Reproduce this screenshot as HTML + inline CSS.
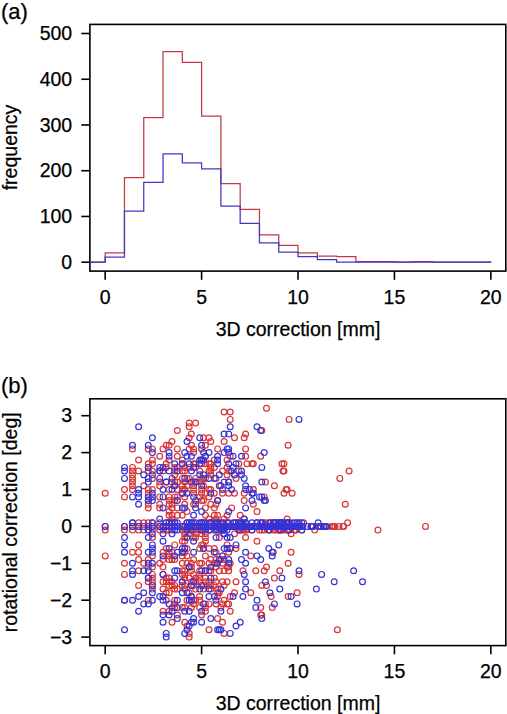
<!DOCTYPE html>
<html><head><meta charset="utf-8"><style>
html,body{margin:0;padding:0;background:#fff;width:507px;height:714px;overflow:hidden}
svg{display:block}
text{font-family:"Liberation Sans", sans-serif}
</style></head><body><svg width="507" height="714" viewBox="0 0 507 714" font-family='"Liberation Sans", sans-serif' font-size="19.5" fill="#000" stroke="#000" stroke-width="0.25"><rect x="89.9" y="24.4" width="415.9" height="246.70000000000002" fill="none" stroke="#000" stroke-width="1.6"/>
<line x1="105.18" y1="271.1" x2="105.18" y2="279.8" stroke="#000" stroke-width="1.6"/>
<text x="105.18" y="303.6" text-anchor="middle">0</text>
<line x1="201.60" y1="271.1" x2="201.60" y2="279.8" stroke="#000" stroke-width="1.6"/>
<text x="201.60" y="303.6" text-anchor="middle">5</text>
<line x1="298.02" y1="271.1" x2="298.02" y2="279.8" stroke="#000" stroke-width="1.6"/>
<text x="298.02" y="303.6" text-anchor="middle">10</text>
<line x1="394.44" y1="271.1" x2="394.44" y2="279.8" stroke="#000" stroke-width="1.6"/>
<text x="394.44" y="303.6" text-anchor="middle">15</text>
<line x1="490.86" y1="271.1" x2="490.86" y2="279.8" stroke="#000" stroke-width="1.6"/>
<text x="490.86" y="303.6" text-anchor="middle">20</text>
<text x="298" y="335.7" text-anchor="middle">3D correction [mm]</text>
<line x1="81.30000000000001" y1="262.20" x2="89.9" y2="262.20" stroke="#000" stroke-width="1.6"/>
<text x="72.2" y="268.80" text-anchor="end">0</text>
<line x1="81.30000000000001" y1="216.46" x2="89.9" y2="216.46" stroke="#000" stroke-width="1.6"/>
<text x="72.2" y="223.06" text-anchor="end">100</text>
<line x1="81.30000000000001" y1="170.72" x2="89.9" y2="170.72" stroke="#000" stroke-width="1.6"/>
<text x="72.2" y="177.32" text-anchor="end">200</text>
<line x1="81.30000000000001" y1="124.98" x2="89.9" y2="124.98" stroke="#000" stroke-width="1.6"/>
<text x="72.2" y="131.58" text-anchor="end">300</text>
<line x1="81.30000000000001" y1="79.24" x2="89.9" y2="79.24" stroke="#000" stroke-width="1.6"/>
<text x="72.2" y="85.84" text-anchor="end">400</text>
<line x1="81.30000000000001" y1="33.50" x2="89.9" y2="33.50" stroke="#000" stroke-width="1.6"/>
<text x="72.2" y="40.10" text-anchor="end">500</text>
<text x="1.0" y="18.9" font-size="22">(a)</text>
<text transform="translate(16.8,147.5) rotate(-90)" text-anchor="middle">frequency</text>
<polyline points="89.90,262.20 105.18,262.20 105.18,252.90 124.46,252.90 124.46,177.60 143.75,177.60 143.75,117.70 163.03,117.70 163.03,51.50 182.32,51.50 182.32,62.30 201.60,62.30 201.60,116.00 220.88,116.00 220.88,183.60 240.17,183.60 240.17,209.30 259.45,209.30 259.45,234.90 278.74,234.90 278.74,245.40 298.02,245.40 298.02,252.80 317.30,252.80 317.30,256.20 336.59,256.20 336.59,256.50 355.87,256.50 355.87,261.70 375.16,261.70 375.16,261.70 394.44,261.70 394.44,262.00 413.72,262.00 413.72,261.70 433.01,261.70 433.01,262.00 452.29,262.00 452.29,262.00 471.58,262.00 471.58,262.00 490.86,262.00 490.86,262.20" fill="none" stroke="#c23a44" stroke-width="1.25"/>
<polyline points="89.90,262.20 105.18,262.20 105.18,257.20 124.46,257.20 124.46,211.20 143.75,211.20 143.75,182.30 163.03,182.30 163.03,153.80 182.32,153.80 182.32,162.80 201.60,162.80 201.60,168.80 220.88,168.80 220.88,206.00 240.17,206.00 240.17,223.30 259.45,223.30 259.45,242.80 278.74,242.80 278.74,252.10 298.02,252.10 298.02,256.60 317.30,256.60 317.30,259.70 336.59,259.70 336.59,262.00 355.87,262.00 355.87,262.10 375.16,262.10 375.16,262.10 394.44,262.10 394.44,262.10 413.72,262.10 413.72,262.10 433.01,262.10 433.01,262.10 452.29,262.10 452.29,262.10 471.58,262.10 471.58,262.10 490.86,262.10 490.86,262.20" fill="none" stroke="#3e38c8" stroke-width="1.25"/>
<rect x="89.9" y="398.8" width="415.9" height="246.8" fill="none" stroke="#000" stroke-width="1.6"/>
<line x1="105.18" y1="645.6" x2="105.18" y2="654.3000000000001" stroke="#000" stroke-width="1.6"/>
<text x="105.18" y="678.0" text-anchor="middle">0</text>
<line x1="201.60" y1="645.6" x2="201.60" y2="654.3000000000001" stroke="#000" stroke-width="1.6"/>
<text x="201.60" y="678.0" text-anchor="middle">5</text>
<line x1="298.02" y1="645.6" x2="298.02" y2="654.3000000000001" stroke="#000" stroke-width="1.6"/>
<text x="298.02" y="678.0" text-anchor="middle">10</text>
<line x1="394.44" y1="645.6" x2="394.44" y2="654.3000000000001" stroke="#000" stroke-width="1.6"/>
<text x="394.44" y="678.0" text-anchor="middle">15</text>
<line x1="490.86" y1="645.6" x2="490.86" y2="654.3000000000001" stroke="#000" stroke-width="1.6"/>
<text x="490.86" y="678.0" text-anchor="middle">20</text>
<text x="298" y="709.6" text-anchor="middle">3D correction [mm]</text>
<line x1="81.30000000000001" y1="637.10" x2="89.9" y2="637.10" stroke="#000" stroke-width="1.6"/>
<text x="72.2" y="643.70" text-anchor="end">−3</text>
<line x1="81.30000000000001" y1="600.20" x2="89.9" y2="600.20" stroke="#000" stroke-width="1.6"/>
<text x="72.2" y="606.80" text-anchor="end">−2</text>
<line x1="81.30000000000001" y1="563.30" x2="89.9" y2="563.30" stroke="#000" stroke-width="1.6"/>
<text x="72.2" y="569.90" text-anchor="end">−1</text>
<line x1="81.30000000000001" y1="526.40" x2="89.9" y2="526.40" stroke="#000" stroke-width="1.6"/>
<text x="72.2" y="533.00" text-anchor="end">0</text>
<line x1="81.30000000000001" y1="489.50" x2="89.9" y2="489.50" stroke="#000" stroke-width="1.6"/>
<text x="72.2" y="496.10" text-anchor="end">1</text>
<line x1="81.30000000000001" y1="452.60" x2="89.9" y2="452.60" stroke="#000" stroke-width="1.6"/>
<text x="72.2" y="459.20" text-anchor="end">2</text>
<line x1="81.30000000000001" y1="415.70" x2="89.9" y2="415.70" stroke="#000" stroke-width="1.6"/>
<text x="72.2" y="422.30" text-anchor="end">3</text>
<text x="1.0" y="393.3" font-size="22">(b)</text>
<text transform="translate(16.8,522.3) rotate(-90)" text-anchor="middle">rotational correction [deg]</text>
<g fill="none" stroke-width="1.2" stroke="#d83434"><circle cx="132.5" cy="448.9" r="2.9"/><circle cx="148.3" cy="448.9" r="2.9"/><circle cx="152.4" cy="448.9" r="2.9"/><circle cx="177.3" cy="430.5" r="2.9"/><circle cx="189.2" cy="423.1" r="2.9"/><circle cx="195.6" cy="423.1" r="2.9"/><circle cx="189.2" cy="426.8" r="2.9"/><circle cx="191.4" cy="434.1" r="2.9"/><circle cx="172.0" cy="441.5" r="2.9"/><circle cx="166.2" cy="445.2" r="2.9"/><circle cx="169.1" cy="445.2" r="2.9"/><circle cx="189.2" cy="437.8" r="2.9"/><circle cx="191.4" cy="445.2" r="2.9"/><circle cx="203.5" cy="437.8" r="2.9"/><circle cx="209.0" cy="437.8" r="2.9"/><circle cx="205.4" cy="445.2" r="2.9"/><circle cx="163.0" cy="448.9" r="2.9"/><circle cx="177.3" cy="448.9" r="2.9"/><circle cx="159.7" cy="456.3" r="2.9"/><circle cx="193.6" cy="452.6" r="2.9"/><circle cx="193.6" cy="448.9" r="2.9"/><circle cx="189.2" cy="448.9" r="2.9"/><circle cx="201.6" cy="448.9" r="2.9"/><circle cx="266.5" cy="408.3" r="2.9"/><circle cx="224.1" cy="412.0" r="2.9"/><circle cx="230.2" cy="412.0" r="2.9"/><circle cx="230.2" cy="419.4" r="2.9"/><circle cx="234.5" cy="437.8" r="2.9"/><circle cx="224.1" cy="441.5" r="2.9"/><circle cx="245.6" cy="434.1" r="2.9"/><circle cx="244.2" cy="437.8" r="2.9"/><circle cx="261.8" cy="430.5" r="2.9"/><circle cx="210.8" cy="441.5" r="2.9"/><circle cx="217.6" cy="448.9" r="2.9"/><circle cx="245.6" cy="448.9" r="2.9"/><circle cx="245.6" cy="456.3" r="2.9"/><circle cx="260.7" cy="456.3" r="2.9"/><circle cx="289.1" cy="419.4" r="2.9"/><circle cx="288.1" cy="445.2" r="2.9"/><circle cx="105.2" cy="493.2" r="2.9"/><circle cx="124.5" cy="489.5" r="2.9"/><circle cx="124.5" cy="496.9" r="2.9"/><circle cx="132.5" cy="467.4" r="2.9"/><circle cx="132.5" cy="471.0" r="2.9"/><circle cx="132.5" cy="474.7" r="2.9"/><circle cx="132.5" cy="478.4" r="2.9"/><circle cx="132.5" cy="482.1" r="2.9"/><circle cx="132.5" cy="485.8" r="2.9"/><circle cx="132.5" cy="489.5" r="2.9"/><circle cx="138.6" cy="460.0" r="2.9"/><circle cx="138.6" cy="471.0" r="2.9"/><circle cx="143.7" cy="485.8" r="2.9"/><circle cx="148.3" cy="463.7" r="2.9"/><circle cx="148.3" cy="471.0" r="2.9"/><circle cx="148.3" cy="489.5" r="2.9"/><circle cx="148.3" cy="500.6" r="2.9"/><circle cx="148.3" cy="507.9" r="2.9"/><circle cx="252.0" cy="463.7" r="2.9"/><circle cx="152.4" cy="463.7" r="2.9"/><circle cx="166.2" cy="463.7" r="2.9"/><circle cx="182.3" cy="460.0" r="2.9"/><circle cx="195.6" cy="463.7" r="2.9"/><circle cx="205.4" cy="463.7" r="2.9"/><circle cx="214.3" cy="460.0" r="2.9"/><circle cx="227.1" cy="460.0" r="2.9"/><circle cx="238.8" cy="463.7" r="2.9"/><circle cx="246.9" cy="463.7" r="2.9"/><circle cx="253.3" cy="463.7" r="2.9"/><circle cx="284.0" cy="463.7" r="2.9"/><circle cx="152.4" cy="471.0" r="2.9"/><circle cx="163.0" cy="471.0" r="2.9"/><circle cx="174.7" cy="471.0" r="2.9"/><circle cx="184.7" cy="471.0" r="2.9"/><circle cx="199.7" cy="471.0" r="2.9"/><circle cx="210.8" cy="471.0" r="2.9"/><circle cx="228.7" cy="471.0" r="2.9"/><circle cx="234.5" cy="474.7" r="2.9"/><circle cx="284.0" cy="471.0" r="2.9"/><circle cx="152.4" cy="478.4" r="2.9"/><circle cx="166.2" cy="482.1" r="2.9"/><circle cx="177.3" cy="482.1" r="2.9"/><circle cx="189.2" cy="478.4" r="2.9"/><circle cx="203.5" cy="478.4" r="2.9"/><circle cx="216.0" cy="478.4" r="2.9"/><circle cx="228.7" cy="482.1" r="2.9"/><circle cx="236.0" cy="478.4" r="2.9"/><circle cx="274.4" cy="485.8" r="2.9"/><circle cx="286.1" cy="489.5" r="2.9"/><circle cx="159.7" cy="485.8" r="2.9"/><circle cx="169.1" cy="489.5" r="2.9"/><circle cx="182.3" cy="489.5" r="2.9"/><circle cx="193.6" cy="489.5" r="2.9"/><circle cx="209.0" cy="489.5" r="2.9"/><circle cx="220.9" cy="485.8" r="2.9"/><circle cx="228.7" cy="493.2" r="2.9"/><circle cx="234.5" cy="493.2" r="2.9"/><circle cx="264.2" cy="496.9" r="2.9"/><circle cx="284.0" cy="493.2" r="2.9"/><circle cx="159.7" cy="496.9" r="2.9"/><circle cx="169.1" cy="500.6" r="2.9"/><circle cx="184.7" cy="496.9" r="2.9"/><circle cx="201.6" cy="493.2" r="2.9"/><circle cx="209.0" cy="496.9" r="2.9"/><circle cx="217.6" cy="500.6" r="2.9"/><circle cx="244.2" cy="500.6" r="2.9"/><circle cx="159.7" cy="504.3" r="2.9"/><circle cx="172.0" cy="507.9" r="2.9"/><circle cx="177.3" cy="507.9" r="2.9"/><circle cx="195.6" cy="504.3" r="2.9"/><circle cx="205.4" cy="507.9" r="2.9"/><circle cx="216.0" cy="504.3" r="2.9"/><circle cx="231.6" cy="507.9" r="2.9"/><circle cx="257.0" cy="511.6" r="2.9"/><circle cx="169.1" cy="515.3" r="2.9"/><circle cx="182.3" cy="515.3" r="2.9"/><circle cx="217.6" cy="515.3" r="2.9"/><circle cx="227.1" cy="515.3" r="2.9"/><circle cx="240.2" cy="515.3" r="2.9"/><circle cx="377.9" cy="530.1" r="2.9"/><circle cx="425.5" cy="526.4" r="2.9"/><circle cx="281.9" cy="463.7" r="2.9"/><circle cx="283.0" cy="471.0" r="2.9"/><circle cx="265.4" cy="482.1" r="2.9"/><circle cx="287.1" cy="489.5" r="2.9"/><circle cx="292.1" cy="493.2" r="2.9"/><circle cx="253.3" cy="489.5" r="2.9"/><circle cx="253.3" cy="504.3" r="2.9"/><circle cx="349.1" cy="471.0" r="2.9"/><circle cx="339.8" cy="478.4" r="2.9"/><circle cx="345.3" cy="504.3" r="2.9"/><circle cx="314.7" cy="530.1" r="2.9"/><circle cx="337.4" cy="629.7" r="2.9"/><circle cx="245.6" cy="537.5" r="2.9"/><circle cx="257.0" cy="541.2" r="2.9"/><circle cx="273.3" cy="552.2" r="2.9"/><circle cx="250.8" cy="555.9" r="2.9"/><circle cx="291.1" cy="552.2" r="2.9"/><circle cx="288.1" cy="563.3" r="2.9"/><circle cx="266.5" cy="567.0" r="2.9"/><circle cx="255.8" cy="570.7" r="2.9"/><circle cx="264.2" cy="570.7" r="2.9"/><circle cx="279.8" cy="570.7" r="2.9"/><circle cx="242.9" cy="570.7" r="2.9"/><circle cx="299.0" cy="574.4" r="2.9"/><circle cx="274.4" cy="578.1" r="2.9"/><circle cx="261.8" cy="585.4" r="2.9"/><circle cx="266.5" cy="585.4" r="2.9"/><circle cx="297.1" cy="592.8" r="2.9"/><circle cx="250.8" cy="592.8" r="2.9"/><circle cx="288.1" cy="596.5" r="2.9"/><circle cx="260.7" cy="607.6" r="2.9"/><circle cx="260.7" cy="615.0" r="2.9"/><circle cx="261.8" cy="615.0" r="2.9"/><circle cx="272.2" cy="607.6" r="2.9"/><circle cx="271.1" cy="596.5" r="2.9"/><circle cx="105.2" cy="555.9" r="2.9"/><circle cx="124.5" cy="563.3" r="2.9"/><circle cx="124.5" cy="574.4" r="2.9"/><circle cx="124.5" cy="600.2" r="2.9"/><circle cx="132.5" cy="552.2" r="2.9"/><circle cx="138.6" cy="544.9" r="2.9"/><circle cx="138.6" cy="552.2" r="2.9"/><circle cx="138.6" cy="559.6" r="2.9"/><circle cx="138.6" cy="570.7" r="2.9"/><circle cx="138.6" cy="585.4" r="2.9"/><circle cx="138.6" cy="530.1" r="2.9"/><circle cx="143.7" cy="563.3" r="2.9"/><circle cx="148.3" cy="559.6" r="2.9"/><circle cx="148.3" cy="567.0" r="2.9"/><circle cx="148.3" cy="578.1" r="2.9"/><circle cx="148.3" cy="581.8" r="2.9"/><circle cx="148.3" cy="600.2" r="2.9"/><circle cx="152.4" cy="537.5" r="2.9"/><circle cx="152.4" cy="555.9" r="2.9"/><circle cx="152.4" cy="567.0" r="2.9"/><circle cx="152.4" cy="574.4" r="2.9"/><circle cx="152.4" cy="578.1" r="2.9"/><circle cx="152.4" cy="581.8" r="2.9"/><circle cx="152.4" cy="585.4" r="2.9"/><circle cx="152.4" cy="589.1" r="2.9"/><circle cx="159.7" cy="563.3" r="2.9"/><circle cx="163.0" cy="552.2" r="2.9"/><circle cx="163.0" cy="559.6" r="2.9"/><circle cx="163.0" cy="567.0" r="2.9"/><circle cx="163.0" cy="574.4" r="2.9"/><circle cx="163.0" cy="581.8" r="2.9"/><circle cx="163.0" cy="589.1" r="2.9"/><circle cx="163.0" cy="611.3" r="2.9"/><circle cx="148.3" cy="467.4" r="2.9"/><circle cx="148.3" cy="493.2" r="2.9"/><circle cx="148.3" cy="504.3" r="2.9"/><circle cx="152.4" cy="460.0" r="2.9"/><circle cx="152.4" cy="489.5" r="2.9"/><circle cx="159.7" cy="471.0" r="2.9"/><circle cx="159.7" cy="482.1" r="2.9"/><circle cx="159.7" cy="507.9" r="2.9"/><circle cx="105.2" cy="526.4" r="2.9"/><circle cx="105.2" cy="530.1" r="2.9"/><circle cx="124.5" cy="526.4" r="2.9"/><circle cx="124.5" cy="530.1" r="2.9"/><circle cx="189.2" cy="637.1" r="2.9"/><circle cx="177.3" cy="615.0" r="2.9"/><circle cx="184.7" cy="622.3" r="2.9"/><circle cx="187.0" cy="626.0" r="2.9"/><circle cx="201.6" cy="615.0" r="2.9"/><circle cx="209.0" cy="629.7" r="2.9"/><circle cx="217.6" cy="618.6" r="2.9"/><circle cx="222.5" cy="622.3" r="2.9"/><circle cx="224.1" cy="633.4" r="2.9"/><circle cx="230.2" cy="611.3" r="2.9"/><circle cx="166.2" cy="467.4" r="2.9"/><circle cx="169.1" cy="460.0" r="2.9"/><circle cx="172.0" cy="482.1" r="2.9"/><circle cx="174.7" cy="482.1" r="2.9"/><circle cx="174.7" cy="474.7" r="2.9"/><circle cx="174.7" cy="467.4" r="2.9"/><circle cx="177.3" cy="467.4" r="2.9"/><circle cx="177.3" cy="456.3" r="2.9"/><circle cx="182.3" cy="478.4" r="2.9"/><circle cx="182.3" cy="471.0" r="2.9"/><circle cx="182.3" cy="463.7" r="2.9"/><circle cx="184.7" cy="482.1" r="2.9"/><circle cx="184.7" cy="467.4" r="2.9"/><circle cx="187.0" cy="478.4" r="2.9"/><circle cx="189.2" cy="467.4" r="2.9"/><circle cx="193.6" cy="482.1" r="2.9"/><circle cx="193.6" cy="463.7" r="2.9"/><circle cx="195.6" cy="482.1" r="2.9"/><circle cx="195.6" cy="478.4" r="2.9"/><circle cx="195.6" cy="467.4" r="2.9"/><circle cx="201.6" cy="482.1" r="2.9"/><circle cx="201.6" cy="478.4" r="2.9"/><circle cx="201.6" cy="463.7" r="2.9"/><circle cx="201.6" cy="460.0" r="2.9"/><circle cx="205.4" cy="478.4" r="2.9"/><circle cx="205.4" cy="456.3" r="2.9"/><circle cx="209.0" cy="471.0" r="2.9"/><circle cx="209.0" cy="463.7" r="2.9"/><circle cx="210.8" cy="474.7" r="2.9"/><circle cx="210.8" cy="467.4" r="2.9"/><circle cx="210.8" cy="463.7" r="2.9"/><circle cx="214.3" cy="467.4" r="2.9"/><circle cx="169.1" cy="511.6" r="2.9"/><circle cx="169.1" cy="504.3" r="2.9"/><circle cx="169.1" cy="496.9" r="2.9"/><circle cx="172.0" cy="515.3" r="2.9"/><circle cx="172.0" cy="504.3" r="2.9"/><circle cx="174.7" cy="500.6" r="2.9"/><circle cx="174.7" cy="496.9" r="2.9"/><circle cx="174.7" cy="485.8" r="2.9"/><circle cx="177.3" cy="515.3" r="2.9"/><circle cx="177.3" cy="496.9" r="2.9"/><circle cx="177.3" cy="489.5" r="2.9"/><circle cx="182.3" cy="493.2" r="2.9"/><circle cx="182.3" cy="485.8" r="2.9"/><circle cx="184.7" cy="504.3" r="2.9"/><circle cx="184.7" cy="489.5" r="2.9"/><circle cx="187.0" cy="511.6" r="2.9"/><circle cx="187.0" cy="485.8" r="2.9"/><circle cx="193.6" cy="504.3" r="2.9"/><circle cx="193.6" cy="493.2" r="2.9"/><circle cx="193.6" cy="485.8" r="2.9"/><circle cx="199.7" cy="496.9" r="2.9"/><circle cx="201.6" cy="500.6" r="2.9"/><circle cx="201.6" cy="489.5" r="2.9"/><circle cx="203.5" cy="500.6" r="2.9"/><circle cx="203.5" cy="485.8" r="2.9"/><circle cx="205.4" cy="515.3" r="2.9"/><circle cx="205.4" cy="493.2" r="2.9"/><circle cx="210.8" cy="504.3" r="2.9"/><circle cx="210.8" cy="489.5" r="2.9"/><circle cx="214.3" cy="515.3" r="2.9"/><circle cx="214.3" cy="507.9" r="2.9"/><circle cx="214.3" cy="493.2" r="2.9"/><circle cx="222.5" cy="493.2" r="2.9"/><circle cx="222.5" cy="471.0" r="2.9"/><circle cx="227.1" cy="474.7" r="2.9"/><circle cx="227.1" cy="467.4" r="2.9"/><circle cx="230.2" cy="456.3" r="2.9"/><circle cx="238.8" cy="471.0" r="2.9"/><circle cx="244.2" cy="493.2" r="2.9"/><circle cx="132.5" cy="526.4" r="2.9"/><circle cx="138.6" cy="526.4" r="2.9"/><circle cx="148.3" cy="526.4" r="2.9"/><circle cx="152.4" cy="526.4" r="2.9"/><circle cx="159.7" cy="526.4" r="2.9"/><circle cx="132.5" cy="522.7" r="2.9"/><circle cx="138.6" cy="522.7" r="2.9"/><circle cx="143.7" cy="522.7" r="2.9"/><circle cx="148.3" cy="522.7" r="2.9"/><circle cx="152.4" cy="522.7" r="2.9"/><circle cx="159.7" cy="522.7" r="2.9"/><circle cx="132.5" cy="530.1" r="2.9"/><circle cx="143.7" cy="530.1" r="2.9"/><circle cx="148.3" cy="530.1" r="2.9"/><circle cx="152.4" cy="530.1" r="2.9"/><circle cx="159.7" cy="530.1" r="2.9"/><circle cx="163.0" cy="526.4" r="2.9"/><circle cx="169.1" cy="526.4" r="2.9"/><circle cx="174.7" cy="526.4" r="2.9"/><circle cx="177.3" cy="526.4" r="2.9"/><circle cx="182.3" cy="526.4" r="2.9"/><circle cx="184.7" cy="526.4" r="2.9"/><circle cx="189.2" cy="526.4" r="2.9"/><circle cx="193.6" cy="526.4" r="2.9"/><circle cx="195.6" cy="526.4" r="2.9"/><circle cx="199.7" cy="526.4" r="2.9"/><circle cx="201.6" cy="526.4" r="2.9"/><circle cx="203.5" cy="526.4" r="2.9"/><circle cx="209.0" cy="526.4" r="2.9"/><circle cx="210.8" cy="526.4" r="2.9"/><circle cx="214.3" cy="526.4" r="2.9"/><circle cx="216.0" cy="526.4" r="2.9"/><circle cx="217.6" cy="526.4" r="2.9"/><circle cx="219.3" cy="526.4" r="2.9"/><circle cx="220.9" cy="526.4" r="2.9"/><circle cx="166.2" cy="522.7" r="2.9"/><circle cx="169.1" cy="522.7" r="2.9"/><circle cx="172.0" cy="522.7" r="2.9"/><circle cx="174.7" cy="522.7" r="2.9"/><circle cx="187.0" cy="522.7" r="2.9"/><circle cx="191.4" cy="522.7" r="2.9"/><circle cx="195.6" cy="522.7" r="2.9"/><circle cx="201.6" cy="522.7" r="2.9"/><circle cx="209.0" cy="522.7" r="2.9"/><circle cx="210.8" cy="522.7" r="2.9"/><circle cx="217.6" cy="522.7" r="2.9"/><circle cx="222.5" cy="522.7" r="2.9"/><circle cx="224.1" cy="522.7" r="2.9"/><circle cx="163.0" cy="530.1" r="2.9"/><circle cx="166.2" cy="530.1" r="2.9"/><circle cx="169.1" cy="530.1" r="2.9"/><circle cx="172.0" cy="530.1" r="2.9"/><circle cx="182.3" cy="530.1" r="2.9"/><circle cx="184.7" cy="530.1" r="2.9"/><circle cx="187.0" cy="530.1" r="2.9"/><circle cx="189.2" cy="530.1" r="2.9"/><circle cx="191.4" cy="530.1" r="2.9"/><circle cx="193.6" cy="530.1" r="2.9"/><circle cx="195.6" cy="530.1" r="2.9"/><circle cx="199.7" cy="530.1" r="2.9"/><circle cx="201.6" cy="530.1" r="2.9"/><circle cx="203.5" cy="530.1" r="2.9"/><circle cx="209.0" cy="530.1" r="2.9"/><circle cx="210.8" cy="530.1" r="2.9"/><circle cx="214.3" cy="530.1" r="2.9"/><circle cx="219.3" cy="530.1" r="2.9"/><circle cx="222.5" cy="530.1" r="2.9"/><circle cx="224.1" cy="530.1" r="2.9"/><circle cx="172.0" cy="519.0" r="2.9"/><circle cx="209.0" cy="519.0" r="2.9"/><circle cx="216.0" cy="519.0" r="2.9"/><circle cx="224.1" cy="519.0" r="2.9"/><circle cx="184.7" cy="533.8" r="2.9"/><circle cx="189.2" cy="533.8" r="2.9"/><circle cx="195.6" cy="533.8" r="2.9"/><circle cx="201.6" cy="533.8" r="2.9"/><circle cx="205.4" cy="533.8" r="2.9"/><circle cx="224.1" cy="533.8" r="2.9"/><circle cx="228.7" cy="526.4" r="2.9"/><circle cx="231.6" cy="526.4" r="2.9"/><circle cx="234.5" cy="526.4" r="2.9"/><circle cx="236.0" cy="526.4" r="2.9"/><circle cx="241.5" cy="526.4" r="2.9"/><circle cx="242.9" cy="526.4" r="2.9"/><circle cx="250.8" cy="526.4" r="2.9"/><circle cx="257.0" cy="526.4" r="2.9"/><circle cx="263.0" cy="526.4" r="2.9"/><circle cx="265.4" cy="526.4" r="2.9"/><circle cx="269.9" cy="526.4" r="2.9"/><circle cx="272.2" cy="526.4" r="2.9"/><circle cx="273.3" cy="526.4" r="2.9"/><circle cx="274.4" cy="526.4" r="2.9"/><circle cx="277.7" cy="526.4" r="2.9"/><circle cx="279.8" cy="526.4" r="2.9"/><circle cx="280.9" cy="526.4" r="2.9"/><circle cx="281.9" cy="526.4" r="2.9"/><circle cx="283.0" cy="526.4" r="2.9"/><circle cx="284.0" cy="526.4" r="2.9"/><circle cx="286.1" cy="526.4" r="2.9"/><circle cx="288.1" cy="526.4" r="2.9"/><circle cx="289.1" cy="526.4" r="2.9"/><circle cx="291.1" cy="526.4" r="2.9"/><circle cx="292.1" cy="526.4" r="2.9"/><circle cx="295.1" cy="526.4" r="2.9"/><circle cx="296.1" cy="526.4" r="2.9"/><circle cx="298.0" cy="526.4" r="2.9"/><circle cx="233.1" cy="522.7" r="2.9"/><circle cx="238.8" cy="522.7" r="2.9"/><circle cx="240.2" cy="522.7" r="2.9"/><circle cx="245.6" cy="522.7" r="2.9"/><circle cx="257.0" cy="522.7" r="2.9"/><circle cx="263.0" cy="522.7" r="2.9"/><circle cx="265.4" cy="522.7" r="2.9"/><circle cx="268.8" cy="522.7" r="2.9"/><circle cx="271.1" cy="522.7" r="2.9"/><circle cx="273.3" cy="522.7" r="2.9"/><circle cx="275.5" cy="522.7" r="2.9"/><circle cx="278.7" cy="522.7" r="2.9"/><circle cx="280.9" cy="522.7" r="2.9"/><circle cx="292.1" cy="522.7" r="2.9"/><circle cx="238.8" cy="530.1" r="2.9"/><circle cx="240.2" cy="530.1" r="2.9"/><circle cx="241.5" cy="530.1" r="2.9"/><circle cx="242.9" cy="530.1" r="2.9"/><circle cx="244.2" cy="530.1" r="2.9"/><circle cx="245.6" cy="530.1" r="2.9"/><circle cx="246.9" cy="530.1" r="2.9"/><circle cx="252.0" cy="530.1" r="2.9"/><circle cx="259.5" cy="530.1" r="2.9"/><circle cx="261.8" cy="530.1" r="2.9"/><circle cx="264.2" cy="530.1" r="2.9"/><circle cx="268.8" cy="530.1" r="2.9"/><circle cx="269.9" cy="530.1" r="2.9"/><circle cx="273.3" cy="530.1" r="2.9"/><circle cx="275.5" cy="530.1" r="2.9"/><circle cx="277.7" cy="530.1" r="2.9"/><circle cx="278.7" cy="530.1" r="2.9"/><circle cx="279.8" cy="530.1" r="2.9"/><circle cx="280.9" cy="530.1" r="2.9"/><circle cx="284.0" cy="530.1" r="2.9"/><circle cx="287.1" cy="530.1" r="2.9"/><circle cx="288.1" cy="530.1" r="2.9"/><circle cx="289.1" cy="530.1" r="2.9"/><circle cx="294.1" cy="530.1" r="2.9"/><circle cx="295.1" cy="530.1" r="2.9"/><circle cx="296.1" cy="530.1" r="2.9"/><circle cx="301.8" cy="530.1" r="2.9"/><circle cx="244.2" cy="519.0" r="2.9"/><circle cx="287.1" cy="519.0" r="2.9"/><circle cx="234.5" cy="533.8" r="2.9"/><circle cx="291.1" cy="533.8" r="2.9"/><circle cx="311.1" cy="526.4" r="2.9"/><circle cx="312.0" cy="526.4" r="2.9"/><circle cx="318.2" cy="526.4" r="2.9"/><circle cx="320.8" cy="526.4" r="2.9"/><circle cx="324.2" cy="526.4" r="2.9"/><circle cx="325.1" cy="526.4" r="2.9"/><circle cx="303.7" cy="522.7" r="2.9"/><circle cx="331.7" cy="526.4" r="2.9"/><circle cx="332.5" cy="526.4" r="2.9"/><circle cx="333.4" cy="526.4" r="2.9"/><circle cx="335.0" cy="526.4" r="2.9"/><circle cx="339.0" cy="526.4" r="2.9"/><circle cx="342.9" cy="526.4" r="2.9"/><circle cx="343.7" cy="526.4" r="2.9"/><circle cx="347.6" cy="522.7" r="2.9"/><circle cx="166.2" cy="600.2" r="2.9"/><circle cx="166.2" cy="581.8" r="2.9"/><circle cx="166.2" cy="578.1" r="2.9"/><circle cx="166.2" cy="548.5" r="2.9"/><circle cx="169.1" cy="592.8" r="2.9"/><circle cx="169.1" cy="585.4" r="2.9"/><circle cx="169.1" cy="581.8" r="2.9"/><circle cx="169.1" cy="578.1" r="2.9"/><circle cx="169.1" cy="559.6" r="2.9"/><circle cx="169.1" cy="555.9" r="2.9"/><circle cx="169.1" cy="552.2" r="2.9"/><circle cx="172.0" cy="607.6" r="2.9"/><circle cx="172.0" cy="585.4" r="2.9"/><circle cx="172.0" cy="581.8" r="2.9"/><circle cx="172.0" cy="559.6" r="2.9"/><circle cx="172.0" cy="552.2" r="2.9"/><circle cx="174.7" cy="607.6" r="2.9"/><circle cx="174.7" cy="603.9" r="2.9"/><circle cx="174.7" cy="600.2" r="2.9"/><circle cx="174.7" cy="589.1" r="2.9"/><circle cx="174.7" cy="559.6" r="2.9"/><circle cx="174.7" cy="544.9" r="2.9"/><circle cx="177.3" cy="589.1" r="2.9"/><circle cx="182.3" cy="574.4" r="2.9"/><circle cx="182.3" cy="563.3" r="2.9"/><circle cx="182.3" cy="555.9" r="2.9"/><circle cx="182.3" cy="552.2" r="2.9"/><circle cx="182.3" cy="541.2" r="2.9"/><circle cx="184.7" cy="607.6" r="2.9"/><circle cx="184.7" cy="589.1" r="2.9"/><circle cx="184.7" cy="578.1" r="2.9"/><circle cx="184.7" cy="552.2" r="2.9"/><circle cx="184.7" cy="541.2" r="2.9"/><circle cx="184.7" cy="537.5" r="2.9"/><circle cx="187.0" cy="600.2" r="2.9"/><circle cx="187.0" cy="563.3" r="2.9"/><circle cx="187.0" cy="555.9" r="2.9"/><circle cx="187.0" cy="548.5" r="2.9"/><circle cx="189.2" cy="592.8" r="2.9"/><circle cx="189.2" cy="567.0" r="2.9"/><circle cx="191.4" cy="607.6" r="2.9"/><circle cx="191.4" cy="570.7" r="2.9"/><circle cx="191.4" cy="563.3" r="2.9"/><circle cx="193.6" cy="603.9" r="2.9"/><circle cx="193.6" cy="600.2" r="2.9"/><circle cx="193.6" cy="585.4" r="2.9"/><circle cx="193.6" cy="559.6" r="2.9"/><circle cx="193.6" cy="537.5" r="2.9"/><circle cx="195.6" cy="589.1" r="2.9"/><circle cx="195.6" cy="581.8" r="2.9"/><circle cx="195.6" cy="578.1" r="2.9"/><circle cx="195.6" cy="537.5" r="2.9"/><circle cx="199.7" cy="607.6" r="2.9"/><circle cx="199.7" cy="596.5" r="2.9"/><circle cx="199.7" cy="570.7" r="2.9"/><circle cx="199.7" cy="563.3" r="2.9"/><circle cx="199.7" cy="548.5" r="2.9"/><circle cx="201.6" cy="563.3" r="2.9"/><circle cx="201.6" cy="544.9" r="2.9"/><circle cx="203.5" cy="589.1" r="2.9"/><circle cx="203.5" cy="585.4" r="2.9"/><circle cx="203.5" cy="548.5" r="2.9"/><circle cx="203.5" cy="544.9" r="2.9"/><circle cx="205.4" cy="578.1" r="2.9"/><circle cx="205.4" cy="570.7" r="2.9"/><circle cx="205.4" cy="555.9" r="2.9"/><circle cx="205.4" cy="541.2" r="2.9"/><circle cx="205.4" cy="537.5" r="2.9"/><circle cx="209.0" cy="603.9" r="2.9"/><circle cx="209.0" cy="581.8" r="2.9"/><circle cx="209.0" cy="570.7" r="2.9"/><circle cx="209.0" cy="563.3" r="2.9"/><circle cx="209.0" cy="548.5" r="2.9"/><circle cx="210.8" cy="589.1" r="2.9"/><circle cx="210.8" cy="585.4" r="2.9"/><circle cx="210.8" cy="570.7" r="2.9"/><circle cx="210.8" cy="559.6" r="2.9"/><circle cx="214.3" cy="585.4" r="2.9"/><circle cx="214.3" cy="578.1" r="2.9"/><circle cx="214.3" cy="563.3" r="2.9"/><circle cx="214.3" cy="548.5" r="2.9"/><circle cx="216.0" cy="603.9" r="2.9"/><circle cx="216.0" cy="567.0" r="2.9"/><circle cx="216.0" cy="563.3" r="2.9"/><circle cx="216.0" cy="559.6" r="2.9"/><circle cx="216.0" cy="552.2" r="2.9"/><circle cx="217.6" cy="596.5" r="2.9"/><circle cx="217.6" cy="589.1" r="2.9"/><circle cx="219.3" cy="570.7" r="2.9"/><circle cx="219.3" cy="537.5" r="2.9"/><circle cx="220.9" cy="559.6" r="2.9"/><circle cx="222.5" cy="603.9" r="2.9"/><circle cx="222.5" cy="581.8" r="2.9"/><circle cx="222.5" cy="563.3" r="2.9"/><circle cx="222.5" cy="555.9" r="2.9"/><circle cx="224.1" cy="600.2" r="2.9"/><circle cx="224.1" cy="585.4" r="2.9"/><circle cx="224.1" cy="570.7" r="2.9"/><circle cx="224.1" cy="559.6" r="2.9"/><circle cx="227.1" cy="603.9" r="2.9"/><circle cx="227.1" cy="581.8" r="2.9"/><circle cx="227.1" cy="567.0" r="2.9"/><circle cx="227.1" cy="544.9" r="2.9"/><circle cx="228.7" cy="603.9" r="2.9"/><circle cx="228.7" cy="570.7" r="2.9"/><circle cx="228.7" cy="567.0" r="2.9"/><circle cx="228.7" cy="552.2" r="2.9"/><circle cx="230.2" cy="563.3" r="2.9"/><circle cx="230.2" cy="548.5" r="2.9"/><circle cx="234.5" cy="592.8" r="2.9"/><circle cx="236.0" cy="581.8" r="2.9"/><circle cx="236.0" cy="548.5" r="2.9"/><circle cx="172.0" cy="622.3" r="2.9"/><circle cx="189.2" cy="633.4" r="2.9"/><circle cx="182.3" cy="585.4" r="2.9"/><circle cx="182.3" cy="581.8" r="2.9"/><circle cx="182.3" cy="570.7" r="2.9"/><circle cx="184.7" cy="585.4" r="2.9"/><circle cx="184.7" cy="574.4" r="2.9"/><circle cx="184.7" cy="570.7" r="2.9"/><circle cx="189.2" cy="578.1" r="2.9"/><circle cx="191.4" cy="585.4" r="2.9"/><circle cx="191.4" cy="581.8" r="2.9"/><circle cx="191.4" cy="567.0" r="2.9"/><circle cx="193.6" cy="574.4" r="2.9"/><circle cx="199.7" cy="581.8" r="2.9"/><circle cx="199.7" cy="578.1" r="2.9"/><circle cx="199.7" cy="574.4" r="2.9"/><circle cx="166.2" cy="592.8" r="2.9"/><circle cx="169.1" cy="611.3" r="2.9"/><circle cx="174.7" cy="585.4" r="2.9"/><circle cx="182.3" cy="607.6" r="2.9"/><circle cx="191.4" cy="596.5" r="2.9"/><circle cx="195.6" cy="600.2" r="2.9"/><circle cx="199.7" cy="600.2" r="2.9"/><circle cx="205.4" cy="611.3" r="2.9"/><circle cx="205.4" cy="607.6" r="2.9"/><circle cx="205.4" cy="603.9" r="2.9"/><circle cx="205.4" cy="581.8" r="2.9"/><circle cx="209.0" cy="585.4" r="2.9"/><circle cx="216.0" cy="581.8" r="2.9"/><circle cx="217.6" cy="592.8" r="2.9"/><circle cx="219.3" cy="592.8" r="2.9"/><circle cx="220.9" cy="607.6" r="2.9"/><circle cx="230.2" cy="596.5" r="2.9"/></g>
<g fill="none" stroke-width="1.2" stroke="#3434d8"><circle cx="138.6" cy="426.8" r="2.9"/><circle cx="132.5" cy="445.2" r="2.9"/><circle cx="148.3" cy="445.2" r="2.9"/><circle cx="152.4" cy="437.8" r="2.9"/><circle cx="152.4" cy="452.6" r="2.9"/><circle cx="187.0" cy="441.5" r="2.9"/><circle cx="199.7" cy="437.8" r="2.9"/><circle cx="201.6" cy="445.2" r="2.9"/><circle cx="169.1" cy="452.6" r="2.9"/><circle cx="169.1" cy="456.3" r="2.9"/><circle cx="184.7" cy="452.6" r="2.9"/><circle cx="187.0" cy="456.3" r="2.9"/><circle cx="191.4" cy="456.3" r="2.9"/><circle cx="203.5" cy="452.6" r="2.9"/><circle cx="209.0" cy="452.6" r="2.9"/><circle cx="230.2" cy="426.8" r="2.9"/><circle cx="224.1" cy="434.1" r="2.9"/><circle cx="228.7" cy="434.1" r="2.9"/><circle cx="257.0" cy="426.8" r="2.9"/><circle cx="260.7" cy="430.5" r="2.9"/><circle cx="227.1" cy="448.9" r="2.9"/><circle cx="228.7" cy="448.9" r="2.9"/><circle cx="228.7" cy="452.6" r="2.9"/><circle cx="224.1" cy="452.6" r="2.9"/><circle cx="217.6" cy="456.3" r="2.9"/><circle cx="233.1" cy="456.3" r="2.9"/><circle cx="264.2" cy="452.6" r="2.9"/><circle cx="299.0" cy="419.4" r="2.9"/><circle cx="124.5" cy="467.4" r="2.9"/><circle cx="124.5" cy="471.0" r="2.9"/><circle cx="124.5" cy="478.4" r="2.9"/><circle cx="132.5" cy="496.9" r="2.9"/><circle cx="138.6" cy="489.5" r="2.9"/><circle cx="138.6" cy="493.2" r="2.9"/><circle cx="138.6" cy="496.9" r="2.9"/><circle cx="138.6" cy="504.3" r="2.9"/><circle cx="143.7" cy="474.7" r="2.9"/><circle cx="148.3" cy="467.4" r="2.9"/><circle cx="148.3" cy="478.4" r="2.9"/><circle cx="148.3" cy="482.1" r="2.9"/><circle cx="148.3" cy="496.9" r="2.9"/><circle cx="159.7" cy="467.4" r="2.9"/><circle cx="163.0" cy="467.4" r="2.9"/><circle cx="174.7" cy="463.7" r="2.9"/><circle cx="189.2" cy="463.7" r="2.9"/><circle cx="201.6" cy="460.0" r="2.9"/><circle cx="217.6" cy="463.7" r="2.9"/><circle cx="231.6" cy="471.0" r="2.9"/><circle cx="241.5" cy="471.0" r="2.9"/><circle cx="261.8" cy="467.4" r="2.9"/><circle cx="159.7" cy="471.0" r="2.9"/><circle cx="169.1" cy="471.0" r="2.9"/><circle cx="177.3" cy="471.0" r="2.9"/><circle cx="191.4" cy="471.0" r="2.9"/><circle cx="203.5" cy="474.7" r="2.9"/><circle cx="219.3" cy="474.7" r="2.9"/><circle cx="241.5" cy="474.7" r="2.9"/><circle cx="159.7" cy="478.4" r="2.9"/><circle cx="172.0" cy="478.4" r="2.9"/><circle cx="184.7" cy="478.4" r="2.9"/><circle cx="195.6" cy="482.1" r="2.9"/><circle cx="209.0" cy="478.4" r="2.9"/><circle cx="224.1" cy="482.1" r="2.9"/><circle cx="244.2" cy="478.4" r="2.9"/><circle cx="261.8" cy="482.1" r="2.9"/><circle cx="152.4" cy="493.2" r="2.9"/><circle cx="163.0" cy="489.5" r="2.9"/><circle cx="174.7" cy="485.8" r="2.9"/><circle cx="187.0" cy="493.2" r="2.9"/><circle cx="201.6" cy="485.8" r="2.9"/><circle cx="210.8" cy="493.2" r="2.9"/><circle cx="245.6" cy="489.5" r="2.9"/><circle cx="252.0" cy="493.2" r="2.9"/><circle cx="163.0" cy="496.9" r="2.9"/><circle cx="177.3" cy="500.6" r="2.9"/><circle cx="193.6" cy="496.9" r="2.9"/><circle cx="217.6" cy="500.6" r="2.9"/><circle cx="252.0" cy="500.6" r="2.9"/><circle cx="259.5" cy="496.9" r="2.9"/><circle cx="264.2" cy="500.6" r="2.9"/><circle cx="163.0" cy="507.9" r="2.9"/><circle cx="184.7" cy="507.9" r="2.9"/><circle cx="201.6" cy="511.6" r="2.9"/><circle cx="228.7" cy="511.6" r="2.9"/><circle cx="245.6" cy="507.9" r="2.9"/><circle cx="193.6" cy="515.3" r="2.9"/><circle cx="253.3" cy="493.2" r="2.9"/><circle cx="261.8" cy="496.9" r="2.9"/><circle cx="265.4" cy="500.6" r="2.9"/><circle cx="321.6" cy="574.4" r="2.9"/><circle cx="334.2" cy="581.8" r="2.9"/><circle cx="316.4" cy="589.1" r="2.9"/><circle cx="353.6" cy="570.7" r="2.9"/><circle cx="362.5" cy="581.8" r="2.9"/><circle cx="278.7" cy="544.9" r="2.9"/><circle cx="268.8" cy="548.5" r="2.9"/><circle cx="272.2" cy="552.2" r="2.9"/><circle cx="272.2" cy="555.9" r="2.9"/><circle cx="245.6" cy="552.2" r="2.9"/><circle cx="257.0" cy="555.9" r="2.9"/><circle cx="260.7" cy="559.6" r="2.9"/><circle cx="241.5" cy="559.6" r="2.9"/><circle cx="245.6" cy="563.3" r="2.9"/><circle cx="244.2" cy="574.4" r="2.9"/><circle cx="299.0" cy="570.7" r="2.9"/><circle cx="281.9" cy="578.1" r="2.9"/><circle cx="245.6" cy="581.8" r="2.9"/><circle cx="265.4" cy="581.8" r="2.9"/><circle cx="245.6" cy="589.1" r="2.9"/><circle cx="279.8" cy="589.1" r="2.9"/><circle cx="269.9" cy="592.8" r="2.9"/><circle cx="242.9" cy="596.5" r="2.9"/><circle cx="291.1" cy="596.5" r="2.9"/><circle cx="297.1" cy="603.9" r="2.9"/><circle cx="257.0" cy="600.2" r="2.9"/><circle cx="255.8" cy="607.6" r="2.9"/><circle cx="261.8" cy="618.6" r="2.9"/><circle cx="274.4" cy="603.9" r="2.9"/><circle cx="240.2" cy="622.3" r="2.9"/><circle cx="124.5" cy="537.5" r="2.9"/><circle cx="124.5" cy="544.9" r="2.9"/><circle cx="124.5" cy="552.2" r="2.9"/><circle cx="124.5" cy="600.2" r="2.9"/><circle cx="124.5" cy="629.7" r="2.9"/><circle cx="132.5" cy="563.3" r="2.9"/><circle cx="132.5" cy="570.7" r="2.9"/><circle cx="132.5" cy="574.4" r="2.9"/><circle cx="132.5" cy="600.2" r="2.9"/><circle cx="138.6" cy="596.5" r="2.9"/><circle cx="138.6" cy="611.3" r="2.9"/><circle cx="143.7" cy="570.7" r="2.9"/><circle cx="143.7" cy="592.8" r="2.9"/><circle cx="143.7" cy="603.9" r="2.9"/><circle cx="148.3" cy="537.5" r="2.9"/><circle cx="148.3" cy="552.2" r="2.9"/><circle cx="148.3" cy="563.3" r="2.9"/><circle cx="148.3" cy="570.7" r="2.9"/><circle cx="148.3" cy="578.1" r="2.9"/><circle cx="148.3" cy="603.9" r="2.9"/><circle cx="152.4" cy="533.8" r="2.9"/><circle cx="152.4" cy="544.9" r="2.9"/><circle cx="152.4" cy="548.5" r="2.9"/><circle cx="152.4" cy="552.2" r="2.9"/><circle cx="152.4" cy="563.3" r="2.9"/><circle cx="152.4" cy="585.4" r="2.9"/><circle cx="152.4" cy="592.8" r="2.9"/><circle cx="152.4" cy="600.2" r="2.9"/><circle cx="159.7" cy="596.5" r="2.9"/><circle cx="163.0" cy="533.8" r="2.9"/><circle cx="163.0" cy="541.2" r="2.9"/><circle cx="163.0" cy="555.9" r="2.9"/><circle cx="163.0" cy="574.4" r="2.9"/><circle cx="163.0" cy="596.5" r="2.9"/><circle cx="163.0" cy="600.2" r="2.9"/><circle cx="148.3" cy="500.6" r="2.9"/><circle cx="152.4" cy="474.7" r="2.9"/><circle cx="152.4" cy="496.9" r="2.9"/><circle cx="152.4" cy="500.6" r="2.9"/><circle cx="159.7" cy="519.0" r="2.9"/><circle cx="105.2" cy="526.4" r="2.9"/><circle cx="124.5" cy="526.4" r="2.9"/><circle cx="166.2" cy="633.4" r="2.9"/><circle cx="166.2" cy="637.1" r="2.9"/><circle cx="184.7" cy="633.4" r="2.9"/><circle cx="184.7" cy="611.3" r="2.9"/><circle cx="163.0" cy="615.0" r="2.9"/><circle cx="163.0" cy="622.3" r="2.9"/><circle cx="169.1" cy="615.0" r="2.9"/><circle cx="191.4" cy="622.3" r="2.9"/><circle cx="193.6" cy="622.3" r="2.9"/><circle cx="201.6" cy="622.3" r="2.9"/><circle cx="210.8" cy="618.6" r="2.9"/><circle cx="217.6" cy="629.7" r="2.9"/><circle cx="220.9" cy="629.7" r="2.9"/><circle cx="230.2" cy="633.4" r="2.9"/><circle cx="236.0" cy="626.0" r="2.9"/><circle cx="166.2" cy="482.1" r="2.9"/><circle cx="182.3" cy="463.7" r="2.9"/><circle cx="191.4" cy="482.1" r="2.9"/><circle cx="193.6" cy="467.4" r="2.9"/><circle cx="199.7" cy="474.7" r="2.9"/><circle cx="199.7" cy="463.7" r="2.9"/><circle cx="199.7" cy="460.0" r="2.9"/><circle cx="203.5" cy="460.0" r="2.9"/><circle cx="205.4" cy="456.3" r="2.9"/><circle cx="214.3" cy="478.4" r="2.9"/><circle cx="172.0" cy="489.5" r="2.9"/><circle cx="182.3" cy="507.9" r="2.9"/><circle cx="182.3" cy="493.2" r="2.9"/><circle cx="195.6" cy="507.9" r="2.9"/><circle cx="195.6" cy="500.6" r="2.9"/><circle cx="217.6" cy="460.0" r="2.9"/><circle cx="219.3" cy="485.8" r="2.9"/><circle cx="222.5" cy="489.5" r="2.9"/><circle cx="228.7" cy="485.8" r="2.9"/><circle cx="228.7" cy="482.1" r="2.9"/><circle cx="228.7" cy="463.7" r="2.9"/><circle cx="231.6" cy="489.5" r="2.9"/><circle cx="233.1" cy="467.4" r="2.9"/><circle cx="234.5" cy="474.7" r="2.9"/><circle cx="236.0" cy="463.7" r="2.9"/><circle cx="241.5" cy="456.3" r="2.9"/><circle cx="245.6" cy="485.8" r="2.9"/><circle cx="249.5" cy="489.5" r="2.9"/><circle cx="132.5" cy="526.4" r="2.9"/><circle cx="138.6" cy="526.4" r="2.9"/><circle cx="143.7" cy="526.4" r="2.9"/><circle cx="148.3" cy="526.4" r="2.9"/><circle cx="152.4" cy="526.4" r="2.9"/><circle cx="159.7" cy="526.4" r="2.9"/><circle cx="132.5" cy="522.7" r="2.9"/><circle cx="152.4" cy="522.7" r="2.9"/><circle cx="148.3" cy="530.1" r="2.9"/><circle cx="163.0" cy="526.4" r="2.9"/><circle cx="166.2" cy="526.4" r="2.9"/><circle cx="169.1" cy="526.4" r="2.9"/><circle cx="172.0" cy="526.4" r="2.9"/><circle cx="174.7" cy="526.4" r="2.9"/><circle cx="177.3" cy="526.4" r="2.9"/><circle cx="182.3" cy="526.4" r="2.9"/><circle cx="184.7" cy="526.4" r="2.9"/><circle cx="187.0" cy="526.4" r="2.9"/><circle cx="189.2" cy="526.4" r="2.9"/><circle cx="191.4" cy="526.4" r="2.9"/><circle cx="193.6" cy="526.4" r="2.9"/><circle cx="195.6" cy="526.4" r="2.9"/><circle cx="199.7" cy="526.4" r="2.9"/><circle cx="201.6" cy="526.4" r="2.9"/><circle cx="203.5" cy="526.4" r="2.9"/><circle cx="205.4" cy="526.4" r="2.9"/><circle cx="209.0" cy="526.4" r="2.9"/><circle cx="210.8" cy="526.4" r="2.9"/><circle cx="214.3" cy="526.4" r="2.9"/><circle cx="216.0" cy="526.4" r="2.9"/><circle cx="217.6" cy="526.4" r="2.9"/><circle cx="219.3" cy="526.4" r="2.9"/><circle cx="220.9" cy="526.4" r="2.9"/><circle cx="222.5" cy="526.4" r="2.9"/><circle cx="224.1" cy="526.4" r="2.9"/><circle cx="166.2" cy="522.7" r="2.9"/><circle cx="169.1" cy="522.7" r="2.9"/><circle cx="172.0" cy="522.7" r="2.9"/><circle cx="174.7" cy="522.7" r="2.9"/><circle cx="177.3" cy="522.7" r="2.9"/><circle cx="187.0" cy="522.7" r="2.9"/><circle cx="189.2" cy="522.7" r="2.9"/><circle cx="191.4" cy="522.7" r="2.9"/><circle cx="193.6" cy="522.7" r="2.9"/><circle cx="199.7" cy="522.7" r="2.9"/><circle cx="201.6" cy="522.7" r="2.9"/><circle cx="203.5" cy="522.7" r="2.9"/><circle cx="205.4" cy="522.7" r="2.9"/><circle cx="210.8" cy="522.7" r="2.9"/><circle cx="214.3" cy="522.7" r="2.9"/><circle cx="216.0" cy="522.7" r="2.9"/><circle cx="217.6" cy="522.7" r="2.9"/><circle cx="220.9" cy="522.7" r="2.9"/><circle cx="174.7" cy="530.1" r="2.9"/><circle cx="177.3" cy="530.1" r="2.9"/><circle cx="187.0" cy="530.1" r="2.9"/><circle cx="191.4" cy="530.1" r="2.9"/><circle cx="201.6" cy="530.1" r="2.9"/><circle cx="205.4" cy="530.1" r="2.9"/><circle cx="209.0" cy="530.1" r="2.9"/><circle cx="216.0" cy="530.1" r="2.9"/><circle cx="217.6" cy="530.1" r="2.9"/><circle cx="220.9" cy="530.1" r="2.9"/><circle cx="222.5" cy="530.1" r="2.9"/><circle cx="224.1" cy="530.1" r="2.9"/><circle cx="172.0" cy="533.8" r="2.9"/><circle cx="224.1" cy="533.8" r="2.9"/><circle cx="227.1" cy="526.4" r="2.9"/><circle cx="228.7" cy="526.4" r="2.9"/><circle cx="230.2" cy="526.4" r="2.9"/><circle cx="231.6" cy="526.4" r="2.9"/><circle cx="233.1" cy="526.4" r="2.9"/><circle cx="234.5" cy="526.4" r="2.9"/><circle cx="236.0" cy="526.4" r="2.9"/><circle cx="238.8" cy="526.4" r="2.9"/><circle cx="240.2" cy="526.4" r="2.9"/><circle cx="241.5" cy="526.4" r="2.9"/><circle cx="242.9" cy="526.4" r="2.9"/><circle cx="244.2" cy="526.4" r="2.9"/><circle cx="245.6" cy="526.4" r="2.9"/><circle cx="246.9" cy="526.4" r="2.9"/><circle cx="249.5" cy="526.4" r="2.9"/><circle cx="250.8" cy="526.4" r="2.9"/><circle cx="252.0" cy="526.4" r="2.9"/><circle cx="253.3" cy="526.4" r="2.9"/><circle cx="255.8" cy="526.4" r="2.9"/><circle cx="257.0" cy="526.4" r="2.9"/><circle cx="259.5" cy="526.4" r="2.9"/><circle cx="260.7" cy="526.4" r="2.9"/><circle cx="261.8" cy="526.4" r="2.9"/><circle cx="263.0" cy="526.4" r="2.9"/><circle cx="264.2" cy="526.4" r="2.9"/><circle cx="265.4" cy="526.4" r="2.9"/><circle cx="266.5" cy="526.4" r="2.9"/><circle cx="268.8" cy="526.4" r="2.9"/><circle cx="269.9" cy="526.4" r="2.9"/><circle cx="271.1" cy="526.4" r="2.9"/><circle cx="272.2" cy="526.4" r="2.9"/><circle cx="273.3" cy="526.4" r="2.9"/><circle cx="274.4" cy="526.4" r="2.9"/><circle cx="275.5" cy="526.4" r="2.9"/><circle cx="277.7" cy="526.4" r="2.9"/><circle cx="278.7" cy="526.4" r="2.9"/><circle cx="279.8" cy="526.4" r="2.9"/><circle cx="280.9" cy="526.4" r="2.9"/><circle cx="281.9" cy="526.4" r="2.9"/><circle cx="283.0" cy="526.4" r="2.9"/><circle cx="284.0" cy="526.4" r="2.9"/><circle cx="286.1" cy="526.4" r="2.9"/><circle cx="287.1" cy="526.4" r="2.9"/><circle cx="288.1" cy="526.4" r="2.9"/><circle cx="289.1" cy="526.4" r="2.9"/><circle cx="291.1" cy="526.4" r="2.9"/><circle cx="292.1" cy="526.4" r="2.9"/><circle cx="294.1" cy="526.4" r="2.9"/><circle cx="295.1" cy="526.4" r="2.9"/><circle cx="296.1" cy="526.4" r="2.9"/><circle cx="297.1" cy="526.4" r="2.9"/><circle cx="298.0" cy="526.4" r="2.9"/><circle cx="299.0" cy="526.4" r="2.9"/><circle cx="299.9" cy="526.4" r="2.9"/><circle cx="301.8" cy="526.4" r="2.9"/><circle cx="227.1" cy="522.7" r="2.9"/><circle cx="228.7" cy="522.7" r="2.9"/><circle cx="234.5" cy="522.7" r="2.9"/><circle cx="236.0" cy="522.7" r="2.9"/><circle cx="238.8" cy="522.7" r="2.9"/><circle cx="241.5" cy="522.7" r="2.9"/><circle cx="242.9" cy="522.7" r="2.9"/><circle cx="245.6" cy="522.7" r="2.9"/><circle cx="252.0" cy="522.7" r="2.9"/><circle cx="257.0" cy="522.7" r="2.9"/><circle cx="260.7" cy="522.7" r="2.9"/><circle cx="261.8" cy="522.7" r="2.9"/><circle cx="269.9" cy="522.7" r="2.9"/><circle cx="273.3" cy="522.7" r="2.9"/><circle cx="274.4" cy="522.7" r="2.9"/><circle cx="275.5" cy="522.7" r="2.9"/><circle cx="278.7" cy="522.7" r="2.9"/><circle cx="279.8" cy="522.7" r="2.9"/><circle cx="280.9" cy="522.7" r="2.9"/><circle cx="281.9" cy="522.7" r="2.9"/><circle cx="283.0" cy="522.7" r="2.9"/><circle cx="286.1" cy="522.7" r="2.9"/><circle cx="287.1" cy="522.7" r="2.9"/><circle cx="288.1" cy="522.7" r="2.9"/><circle cx="289.1" cy="522.7" r="2.9"/><circle cx="295.1" cy="522.7" r="2.9"/><circle cx="297.1" cy="522.7" r="2.9"/><circle cx="299.0" cy="522.7" r="2.9"/><circle cx="301.8" cy="522.7" r="2.9"/><circle cx="227.1" cy="530.1" r="2.9"/><circle cx="238.8" cy="530.1" r="2.9"/><circle cx="252.0" cy="530.1" r="2.9"/><circle cx="268.8" cy="530.1" r="2.9"/><circle cx="280.9" cy="530.1" r="2.9"/><circle cx="289.1" cy="530.1" r="2.9"/><circle cx="301.8" cy="530.1" r="2.9"/><circle cx="244.2" cy="519.0" r="2.9"/><circle cx="302.8" cy="526.4" r="2.9"/><circle cx="307.4" cy="526.4" r="2.9"/><circle cx="311.1" cy="526.4" r="2.9"/><circle cx="312.0" cy="526.4" r="2.9"/><circle cx="312.9" cy="526.4" r="2.9"/><circle cx="319.0" cy="526.4" r="2.9"/><circle cx="320.8" cy="526.4" r="2.9"/><circle cx="323.4" cy="526.4" r="2.9"/><circle cx="325.9" cy="526.4" r="2.9"/><circle cx="326.7" cy="526.4" r="2.9"/><circle cx="318.2" cy="522.7" r="2.9"/><circle cx="169.1" cy="603.9" r="2.9"/><circle cx="169.1" cy="548.5" r="2.9"/><circle cx="174.7" cy="578.1" r="2.9"/><circle cx="174.7" cy="570.7" r="2.9"/><circle cx="174.7" cy="555.9" r="2.9"/><circle cx="177.3" cy="607.6" r="2.9"/><circle cx="177.3" cy="570.7" r="2.9"/><circle cx="177.3" cy="552.2" r="2.9"/><circle cx="182.3" cy="581.8" r="2.9"/><circle cx="182.3" cy="552.2" r="2.9"/><circle cx="182.3" cy="548.5" r="2.9"/><circle cx="184.7" cy="548.5" r="2.9"/><circle cx="187.0" cy="592.8" r="2.9"/><circle cx="187.0" cy="537.5" r="2.9"/><circle cx="189.2" cy="600.2" r="2.9"/><circle cx="189.2" cy="567.0" r="2.9"/><circle cx="191.4" cy="600.2" r="2.9"/><circle cx="191.4" cy="585.4" r="2.9"/><circle cx="193.6" cy="581.8" r="2.9"/><circle cx="193.6" cy="552.2" r="2.9"/><circle cx="193.6" cy="541.2" r="2.9"/><circle cx="199.7" cy="589.1" r="2.9"/><circle cx="201.6" cy="570.7" r="2.9"/><circle cx="203.5" cy="603.9" r="2.9"/><circle cx="203.5" cy="548.5" r="2.9"/><circle cx="205.4" cy="570.7" r="2.9"/><circle cx="209.0" cy="596.5" r="2.9"/><circle cx="209.0" cy="589.1" r="2.9"/><circle cx="210.8" cy="578.1" r="2.9"/><circle cx="210.8" cy="567.0" r="2.9"/><circle cx="214.3" cy="596.5" r="2.9"/><circle cx="214.3" cy="552.2" r="2.9"/><circle cx="216.0" cy="600.2" r="2.9"/><circle cx="216.0" cy="537.5" r="2.9"/><circle cx="217.6" cy="563.3" r="2.9"/><circle cx="219.3" cy="559.6" r="2.9"/><circle cx="220.9" cy="589.1" r="2.9"/><circle cx="222.5" cy="555.9" r="2.9"/><circle cx="224.1" cy="548.5" r="2.9"/><circle cx="227.1" cy="548.5" r="2.9"/><circle cx="227.1" cy="537.5" r="2.9"/><circle cx="228.7" cy="563.3" r="2.9"/><circle cx="228.7" cy="559.6" r="2.9"/><circle cx="230.2" cy="548.5" r="2.9"/><circle cx="230.2" cy="537.5" r="2.9"/><circle cx="233.1" cy="596.5" r="2.9"/><circle cx="236.0" cy="544.9" r="2.9"/><circle cx="177.3" cy="618.6" r="2.9"/><circle cx="187.0" cy="629.7" r="2.9"/><circle cx="189.2" cy="626.0" r="2.9"/><circle cx="189.2" cy="611.3" r="2.9"/><circle cx="193.6" cy="618.6" r="2.9"/><circle cx="201.6" cy="611.3" r="2.9"/><circle cx="219.3" cy="629.7" r="2.9"/><circle cx="172.0" cy="611.3" r="2.9"/><circle cx="177.3" cy="600.2" r="2.9"/><circle cx="182.3" cy="592.8" r="2.9"/><circle cx="191.4" cy="596.5" r="2.9"/><circle cx="201.6" cy="585.4" r="2.9"/><circle cx="220.9" cy="611.3" r="2.9"/></g></svg></body></html>
